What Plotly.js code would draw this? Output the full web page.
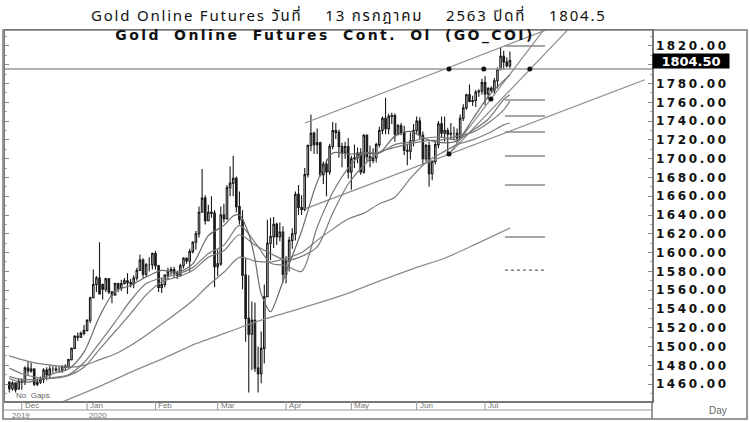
<!DOCTYPE html>
<html><head><meta charset="utf-8">
<script src="https://cdn.plot.ly/plotly-3.0.1.min.js"></script>
<style>
html,body{margin:0;padding:0;background:#fff;}
#chart{width:750px;height:422px;}
.ytick text{letter-spacing:2.6px;}
.gtitle{letter-spacing:2.4px;word-spacing:6px;}
g.annotation[data-index="0"] text{letter-spacing:1.8px;}
</style></head><body><div id="chart"></div>
<script>
// ---- trading days (categories) ----
const tradingDays = [
 ['2019-11', [25,26,27,29]],
 ['2019-12', [2,3,4,5,6,9,10,11,12,13,16,17,18,19,20,23,24,26,27,30,31]],
 ['2020-01', [2,3,6,7,8,9,10,13,14,15,16,17,20,21,22,23,24,27,28,29,30,31]],
 ['2020-02', [3,4,5,6,7,10,11,12,13,14,17,18,19,20,21,24,25,26,27,28]],
 ['2020-03', [2,3,4,5,6,9,10,11,12,13,16,17,18,19,20,23,24,25,26,27,30,31]],
 ['2020-04', [1,2,3,6,7,8,9,13,14,15,16,17,20,21,22,23,24,27,28,29,30]],
 ['2020-05', [1,4,5,6,7,8,11,12,13,14,15,18,19,20,21,22,25,26,27,28,29]],
 ['2020-06', [1,2,3,4,5,8,9,10,11,12,15,16,17,18,19,22,23,24,25,26,29,30]],
 ['2020-07', [1,2,3,6,7,8,9,10,13]]
];
const monthLabels = ['Dec','Jan','Feb','Mar','Apr','May','Jun','Jul'];
const monthStarts = ['2019-12-02','2020-01-02','2020-02-03','2020-03-02','2020-04-01','2020-05-01','2020-06-01','2020-07-01'];
const yearLabels = ['2019','2020'];
const yearStarts = ['2019-12-02','2020-01-02'];
const tickVals = [1460,1480,1500,1520,1540,1560,1580,1600,1620,1640,1660,1680,1700,1720,1740,1760,1780,1800,1820];
const tickText = ['1460.00','1480.00','1500.00','1520.00','1540.00','1560.00','1580.00','1600.00','1620.00','1640.00','1660.00','1680.00','1700.00','1720.00','1740.00','1760.00','1780.00','','1820.00'];

// ---- OHLC ----
const open = [1462,1455,1461,1455,
 1463,1462,1477,1474,1476,1460,1462,1465,1475,1470,1476,1476,1475,1475,1479,1478,1486,1498,1511,1510,1514,
 1517,1528,1552,1566,1573,1566,1561,1572,1558,1555,1567,1562,1567,1570,1568,1567,1573,1581,1592,1577,1587,1587,
 1599,1586,1563,1566,1576,1580,1582,1578,1576,1586,1594,1591,1601,1611,1620,1643,1658,1634,1643,1642,
 1585,1588,1640,1636,1669,1674,1679,1649,1635,1576,1530,1513,1528,1477,1471,1498,1553,1610,1617,1630,1617,1622,
 1577,1591,1613,1620,1662,1648,1646,1683,1714,1727,1715,1717,1683,1694,1686,1713,1730,1728,1713,1706,1713,
 1686,1700,1701,1706,1686,1725,1702,1698,1701,1715,1730,1743,1732,1745,1746,1726,1735,1728,1709,1708,1719,
 1730,1740,1725,1700,1714,1684,1697,1715,1737,1727,1730,1726,1727,1727,1722,1743,1754,1768,1761,1762,1771,1772,
 1781,1769,1775,1773,1783,1795,1809,1803,1799];
const high = [1463,1463,1462,1466,
 1466,1479,1484,1483,1477,1466,1468,1477,1478,1480,1479,1479,1479,1480,1481,1487,1499,1512,1515,1516,1523,
 1529,1553,1582,1575,1611,1567,1573,1573,1559,1568,1568,1571,1573,1578,1572,1576,1584,1598,1594,1589,1595,1600,
 1602,1587,1573,1577,1584,1585,1585,1581,1588,1595,1595,1604,1612,1623,1649,1689,1661,1651,1660,1645,
 1603,1649,1652,1672,1692,1703,1681,1665,1645,1594,1576,1548,1547,1500,1516,1566,1635,1637,1638,1632,1632,1628,
 1596,1617,1626,1665,1672,1661,1690,1715,1747,1729,1732,1718,1697,1699,1716,1739,1738,1731,1717,1718,1722,
 1703,1715,1712,1711,1726,1726,1714,1711,1717,1734,1745,1765,1748,1749,1748,1737,1738,1735,1716,1728,1737,
 1745,1744,1729,1716,1718,1698,1718,1740,1745,1745,1733,1738,1734,1732,1747,1758,1769,1779,1767,1773,1774,1785,
 1788,1776,1777,1786,1797,1818,1815,1808,1814];
const low = [1451,1453,1451,1454,
 1454,1459,1470,1472,1458,1458,1460,1461,1464,1466,1472,1473,1472,1472,1474,1477,1485,1497,1506,1509,1512,
 1516,1525,1552,1558,1556,1550,1558,1556,1546,1554,1558,1559,1566,1556,1563,1562,1570,1581,1573,1574,1580,1582,
 1582,1558,1557,1563,1571,1576,1573,1572,1574,1583,1588,1580,1599,1603,1616,1643,1630,1634,1637,1563,
 1575,1586,1632,1635,1660,1660,1643,1630,1561,1505,1451,1475,1473,1451,1461,1482,1553,1592,1605,1608,1612,1568,
 1567,1580,1604,1613,1640,1640,1644,1680,1708,1705,1705,1681,1673,1660,1683,1710,1721,1701,1691,1700,1679,
 1667,1690,1695,1683,1684,1697,1691,1695,1696,1712,1726,1726,1726,1737,1718,1725,1725,1704,1693,1699,1713,
 1726,1720,1693,1697,1670,1677,1694,1711,1722,1718,1705,1720,1720,1716,1720,1740,1752,1760,1756,1755,1766,1768,
 1757,1763,1771,1769,1775,1794,1795,1797,1796];
const close = [1455,1461,1454,1463,
 1462,1477,1474,1476,1460,1462,1465,1475,1470,1476,1476,1475,1475,1479,1478,1486,1498,1511,1510,1514,1517,
 1528,1552,1566,1573,1556,1561,1572,1558,1555,1567,1562,1567,1570,1568,1567,1573,1581,1592,1577,1587,1587,1599,
 1586,1563,1566,1576,1580,1582,1578,1576,1586,1594,1591,1601,1611,1620,1643,1658,1634,1643,1642,1585,
 1588,1640,1636,1669,1674,1679,1649,1635,1576,1530,1513,1528,1477,1471,1498,1553,1610,1617,1630,1617,1622,1577,
 1591,1613,1620,1662,1648,1646,1683,1714,1727,1715,1717,1683,1694,1686,1713,1730,1728,1713,1706,1713,1686,
 1700,1701,1706,1686,1725,1702,1698,1701,1715,1730,1743,1732,1745,1746,1726,1735,1728,1709,1708,1719,1730,
 1740,1725,1700,1714,1684,1697,1715,1737,1727,1730,1726,1727,1727,1722,1743,1754,1768,1761,1762,1771,1772,1781,
 1769,1775,1773,1783,1795,1809,1803,1799,1804.5];

// ---- moving averages (read at sample bars) ----
const ma10Bar = [0,4,9,14,19,24,29,34,39,44,49,54,59,64,69,72,74,77,79,81,84,86,89,94,99,104,109,114,119,124,129,134,139,144,149,154,159,161];
const ma10Val = [1466,1462,1464,1471,1476,1494,1532,1559,1565,1574,1581,1579,1588,1618,1629,1639,1640,1620,1593,1556,1537,1551,1579,1623,1675,1706,1705,1706,1706,1724,1729,1721,1717,1719,1742,1766,1783,1789];
const ma20Bar = [0,4,9,14,19,24,29,34,39,44,49,54,59,64,69,74,79,84,89,94,99,104,109,114,119,124,129,134,139,144,149,154,159,161];
const ma20Val = [1468,1465,1465,1467,1470,1483,1504,1526,1549,1567,1573,1577,1584,1599,1608,1629,1611,1589,1586,1580,1627,1664,1690,1706,1706,1715,1718,1722,1723,1720,1730,1742,1763,1768];
const ma25Bar = [0,4,9,14,19,24,29,34,39,44,49,54,59,64,69,74,79,84,89,94,99,104,109,114,119,124,129,134,139,144,149,154,159,161];
const ma25Val = [1477,1471,1467,1466,1469,1478,1497,1516,1535,1555,1569,1574,1581,1595,1602,1619,1608,1599,1592,1596,1606,1642,1673,1693,1707,1712,1716,1719,1720,1724,1728,1738,1752,1761];
const ma50Bar = [0,4,9,14,19,24,29,34,39,44,49,54,59,64,69,74,79,84,89,94,99,104,109,114,119,124,129,134,139,144,149,154,159,161];
const ma50Val = [1490,1486,1482,1480,1478,1480,1486,1492,1501,1512,1524,1536,1549,1565,1579,1595,1591,1590,1594,1600,1613,1625,1636,1642,1652,1659,1679,1696,1706,1715,1720,1727,1736,1738];
const ma200Bar = [14,17,30,40,50,60,70,80,90,100,110,120,130,140,150,161];
const ma200Val = [1437,1441,1459,1474,1488,1503,1515,1527,1537,1547,1558,1571,1583,1594,1609,1626];

// ---- drawn lines ----
const upperChannelX = [95.1, 175];
const upperChannelY = [1738, 1840];
const lowerChannelX = [95.1, 204.4];
const lowerChannelY = [1646.5, 1784];
const resistanceX = [-1.4, 206.7];
const resistanceY = [1795.5, 1795.5];
const steepLine1X = [141.4, 173];
const steepLine1Y = [1705, 1842];
const steepLine2X = [141.4, 181];
const steepLine2Y = [1705, 1842];
const levelX = [159.4, 172.3];
const levelPrices = [1820, 1762.5, 1745.5, 1728.4, 1702.9, 1672, 1616.6];
const dottedLevel = [1581.4];
const dotBars = [141.4, 141.4, 152.6, 167.4, 154.9];
const dotPrices = [1795.5, 1705, 1795.5, 1795.5, 1763.6];
const lastClose = 1804.5;

// ---- build ----
const dates = [];
tradingDays.forEach(([m, ds]) => ds.forEach(d => dates.push(m + '-' + String(d).padStart(2,'0'))));
const bar = dates.map((_, i) => i);

const Lp=5, Rp=652, Tp=30, Bp=401;
const pxX = p => (p - Lp) / (Rp - Lp);
const pxY = p => (Bp - p) / (Bp - Tp);

const grey = '#8c8c8c';
const lineT = (x, y, extra) => Object.assign({type:'scatter', mode:'lines', x, y, line:{color:grey, width:1.2}, hoverinfo:'skip', showlegend:false}, extra||{});
const maLine = (c) => ({line:{color:c, width:1.2, shape:'spline', smoothing:0.8}});

const traces = [];
traces.push(lineT(ma200Bar, ma200Val, {line:{color:grey, width:1.3, shape:'spline', smoothing:0.6}}));
traces.push(lineT(upperChannelX, upperChannelY));
traces.push(lineT(lowerChannelX, lowerChannelY));
traces.push(lineT(resistanceX, resistanceY, {line:{color:'#999', width:1.6}}));
traces.push(lineT(steepLine1X, steepLine1Y));
traces.push(lineT(steepLine2X, steepLine2Y));
levelPrices.forEach(p => traces.push(lineT(levelX, [p, p], {line:{color:'#888', width:1.4}})));
dottedLevel.forEach(p => traces.push(lineT(levelX, [p, p], {line:{color:'#666', width:1.3, dash:'dot'}})));
traces.push(lineT(ma50Bar, ma50Val, maLine('#7e7e7e')));
traces.push(lineT(ma25Bar, ma25Val, maLine('#7a7a7a')));
traces.push(lineT(ma20Bar, ma20Val, maLine('#7a7a7a')));
traces.push(lineT(ma10Bar, ma10Val, maLine('#6a6a6a')));
traces.push({type:'candlestick', x:bar, open, high, low, close,
  increasing:{line:{color:'#1a1a1a', width:1.1}, fillcolor:'#ffffff'},
  decreasing:{line:{color:'#1a1a1a', width:1.1}, fillcolor:'#1a1a1a'},
  whiskerwidth:0, hoverinfo:'skip', showlegend:false});
traces.push({type:'scatter', mode:'markers', x:dotBars, y:dotPrices, marker:{color:'#111', size:5, symbol:'circle'}, hoverinfo:'skip', showlegend:false});

const annotations = [];
annotations.push({xref:'paper', yref:'paper', x:pxX(349), y:pxY(16), xanchor:'center', yanchor:'middle', showarrow:false,
  text:'Gold Online Futures วันที่\u00a0\u00a0\u00a0 13 กรกฎาคม\u00a0\u00a0\u00a0 2563 ปิดที่\u00a0\u00a0\u00a0 1804.5',
  font:{family:'Noto Sans Thai, Noto Sans, sans-serif', size:15, color:'#111'}});
monthLabels.forEach((m, k) => annotations.push({xref:'x', yref:'paper', x:dates.indexOf(monthStarts[k]), y:pxY(405.3),
  xanchor:'left', yanchor:'middle', xshift:1, showarrow:false, text:m, font:{family:'Liberation Sans, Arial', size:8, color:'#777'}}));
yearLabels.forEach((m, k) => annotations.push({xref:'x', yref:'paper', x:dates.indexOf(yearStarts[k]), y:pxY(415),
  xanchor:'left', yanchor:'middle', xshift:(k ? 0 : -12), showarrow:false, text:m, font:{family:'Liberation Sans, Arial', size:8, color:'#777'}}));
annotations.push({xref:'paper', yref:'paper', x:pxX(14), y:pxY(395.3), xanchor:'left', yanchor:'middle', showarrow:false,
  text:'No  Gaps', font:{family:'Liberation Sans, Arial', size:8, color:'#666'}});
annotations.push({xref:'paper', yref:'paper', x:pxX(718), y:pxY(410), xanchor:'center', yanchor:'middle', showarrow:false,
  text:'Day', font:{family:'Liberation Sans, Arial', size:10, color:'#666'}});
annotations.push({xref:'paper', yref:'y', x:pxX(652), y:lastClose, xanchor:'left', yanchor:'middle', showarrow:false,
  text:'<b>1804.50</b>', bgcolor:'#000', borderpad:0, width:76, height:14, align:'center',
  font:{family:'DejaVu Sans', size:13, color:'#fff'}});

const shapes = [];
shapes.push({type:'rect', xref:'paper', yref:'paper', x0:pxX(3), x1:pxX(747), y0:pxY(419), y1:pxY(Tp), line:{color:'#777', width:1.5}});
shapes.push({type:'line', xref:'paper', yref:'paper', x0:pxX(3), x1:pxX(652), y0:pxY(410), y1:pxY(410), line:{color:'#999', width:1}});
shapes.push({type:'line', xref:'paper', yref:'paper', x0:pxX(652), x1:pxX(652), y0:pxY(401), y1:pxY(419), line:{color:'#777', width:1.5}});
monthStarts.forEach(d => shapes.push({type:'line', xref:'x', yref:'paper', x0:dates.indexOf(d), x1:dates.indexOf(d), y0:pxY(401), y1:pxY(410), line:{color:'#999', width:1}}));

const layout = {
  width:750, height:422, paper_bgcolor:'#fff', plot_bgcolor:'#fff',
  margin:{l:Lp, r:750-Rp, t:Tp, b:422-Bp, pad:0},
  showlegend:false,
  title:{text:'Gold Online Futures Cont. Ol (GO_COI)', xref:'paper', yref:'paper', x:pxX(325), y:pxY(35), xanchor:'center', yanchor:'middle',
    font:{family:'DejaVu Sans', size:14, weight:'bold', color:'#111'}},
  xaxis:{type:'linear', range:[-1.4, 206.7], showticklabels:false, showgrid:false, zeroline:false, ticks:'',
    showline:true, mirror:true, linecolor:'#777', linewidth:1.5, rangeslider:{visible:false}, fixedrange:true},
  yaxis:{side:'right', range:[1442, 1837], tickmode:'array', tickvals:tickVals, ticktext:tickText, showgrid:false, zeroline:false,
    ticks:'inside', ticklen:4, tickcolor:'#888', showline:true, mirror:'allticks', linecolor:'#777', linewidth:1.5,
    minor:{dtick:10, tick0:1460, ticks:'inside', ticklen:2, tickcolor:'#aaa'},
    tickfont:{family:'DejaVu Sans', size:12, weight:'bold', color:'#111'}, fixedrange:true},
  annotations, shapes
};
Plotly.newPlot('chart', traces, layout, {staticPlot:true, displayModeBar:false});
</script></body></html>
